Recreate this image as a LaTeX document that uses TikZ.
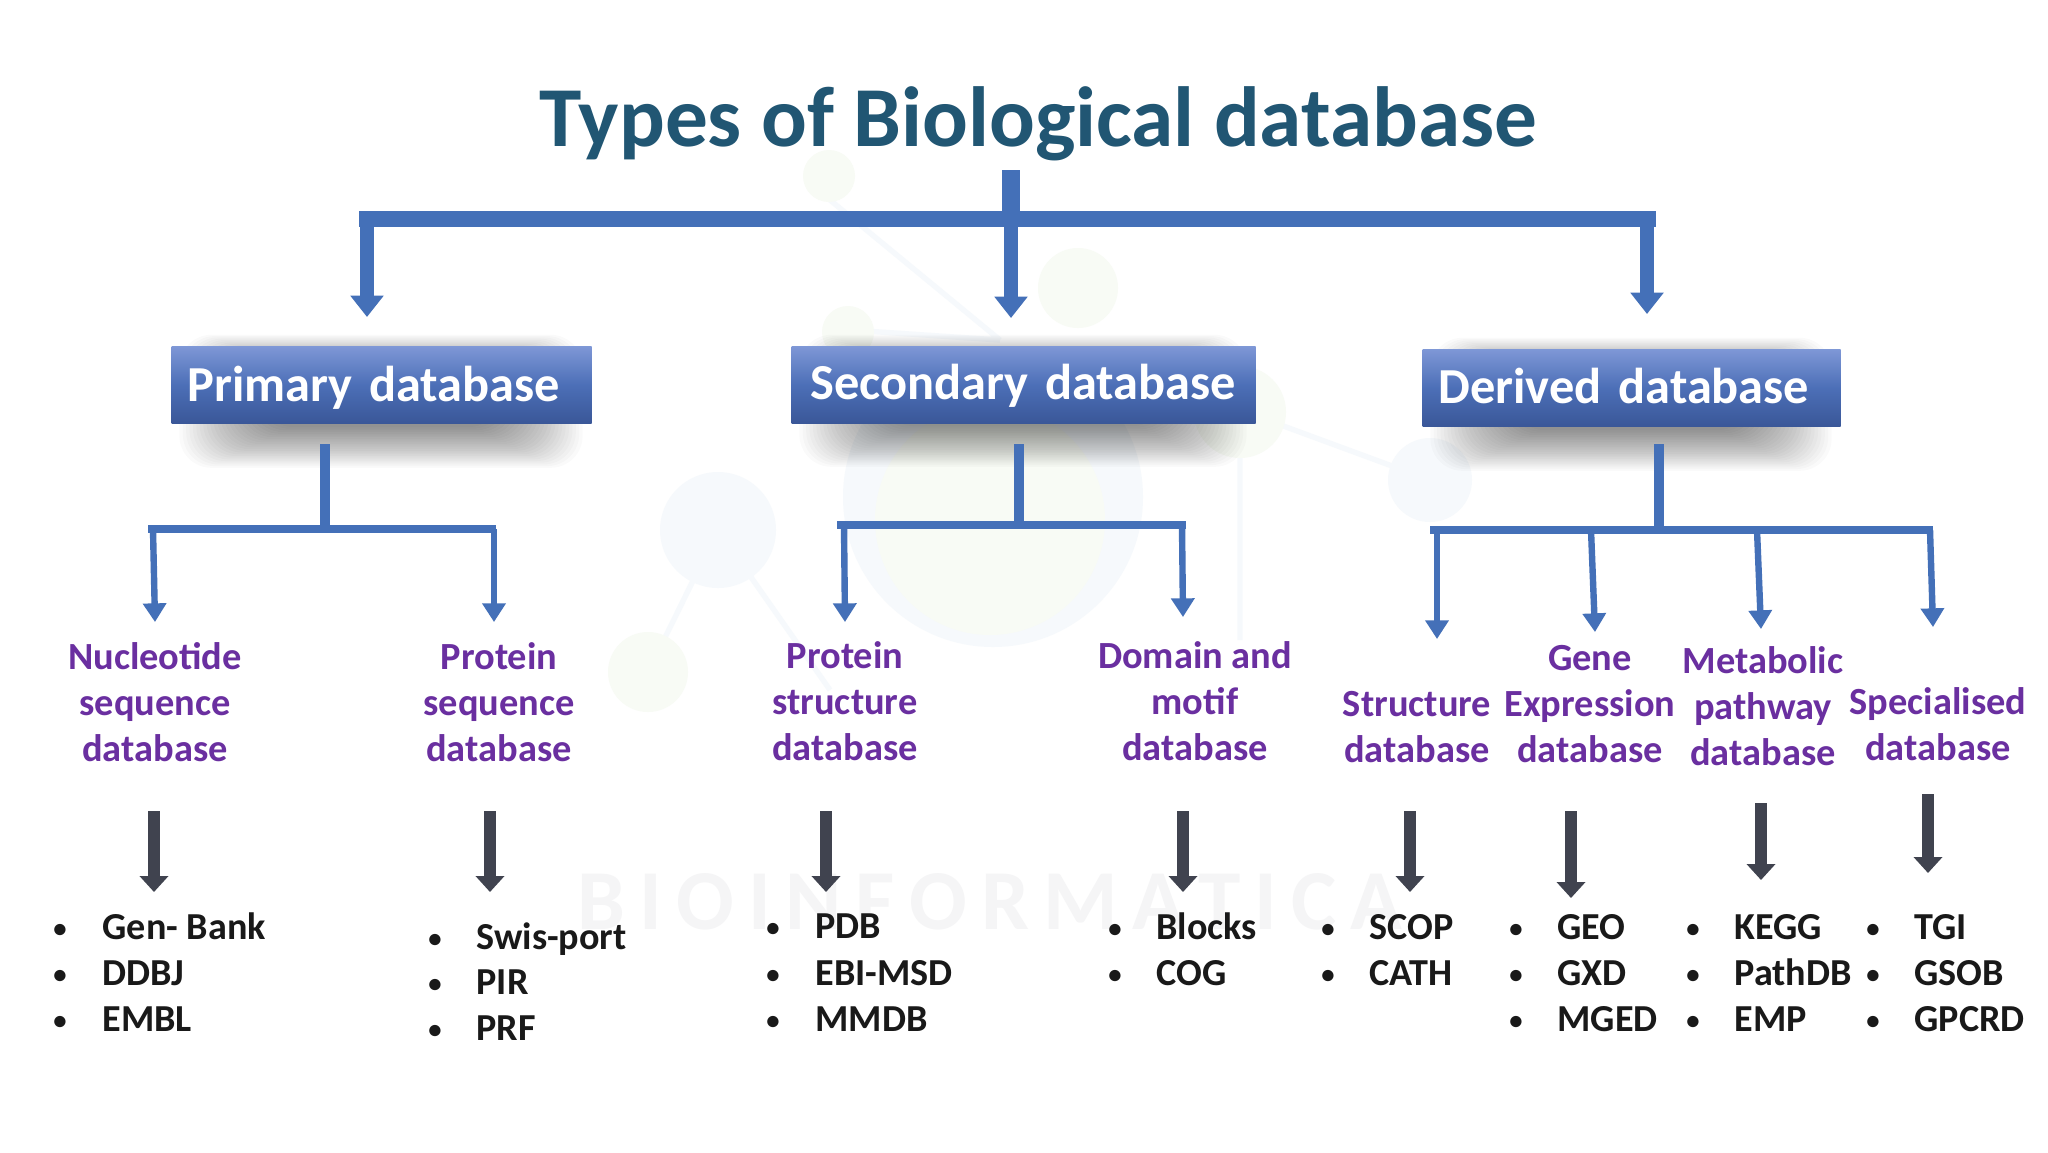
\documentclass[tikz,border=0pt]{standalone}
\usepackage{fontspec}
\setmainfont{Carlito}
\usetikzlibrary{arrows.meta,calc}
\definecolor{titlec}{HTML}{215673}
\definecolor{linkc}{HTML}{4470B8}
\definecolor{linkd}{HTML}{4470B8}
\definecolor{purp}{HTML}{6A2FA0}
\definecolor{darka}{HTML}{40434F}
\definecolor{wm}{HTML}{F6F9FC}
\definecolor{wmg}{HTML}{F8FBF5}
\definecolor{wmt}{HTML}{F5F5F6}
\tikzset{
  x=0.375pt,y=-0.375pt,
  title/.style={font=\fontsize{32pt}{34pt}\selectfont\bfseries,text=titlec,anchor=base,inner sep=0pt},
  header/.style={anchor=north west,inner ysep=0pt,inner xsep=6pt,minimum height=28.8pt,
     font=\fontsize{18.9pt}{20pt}\selectfont\bfseries,text=white,align=left,
     top color=headtop,bottom color=headbot,middle color=headmid},
  cat/.style={font=\fontsize{14.4pt}{17.2pt}\selectfont\bfseries,text=purp,align=center,anchor=center,inner sep=0pt},
  item/.style={font=\fontsize{14.3pt}{16pt}\selectfont\bfseries,text=black!90,anchor=base west,inner sep=0pt},
  bul/.style={font=\fontsize{10pt}{12pt}\selectfont\bfseries,text=black!90,anchor=base,inner sep=0pt},
  trunk/.style={draw=linkd,line width=6pt},
  drop/.style={draw=linkd,line width=5.2pt,-{Triangle[length=8pt,width=12pt]}},
  stem/.style={draw=linkd,line width=3.4pt},
  sbar/.style={draw=linkd,line width=3.2pt},
  sarrow/.style={draw=linkd,line width=2.4pt,-{Triangle[length=7pt,width=8.5pt]}},
  darrow/.style={draw=darka,line width=4.6pt,-{Triangle[length=6pt,width=10.5pt]}},
  wmline/.style={draw=wm,line width=2pt},
}
\definecolor{headtop}{HTML}{7E97D6}
\definecolor{headmid}{HTML}{4C6FB7}
\definecolor{headbot}{HTML}{3A5798}
\newcommand{\boxshadow}[4]{% x1 y1 x2 y2
  \foreach \k in {0,...,24}{
    \fill[black,opacity=0.019,rounded corners=12pt]
      (#1+90-\k*3.4,#2+20-\k*1.3) rectangle (#3-90+\k*3.4,#4+4+\k*1.7);
  }}
\newcommand{\entry}[5]{% name bullet-x text-x y text
  \node[bul] (#1b) at (#2,#4-1) {•};
  \node[item] (#1) at (#3,#4+1) {#5};}
\newcommand{\headtext}[2]{\raisebox{-#1}[0pt][0pt]{#2}}
\begin{document}
\begin{tikzpicture}
\useasboundingbox (0,0) rectangle (2048,1152);
\fill[white] (0,0) rectangle (2048,1152);
% faint watermark
\begin{scope}
\draw[wmline] (718,530)--(830,690) (718,530)--(648,672) (1000,340)--(830,200) (1000,340)--(850,330)
 (1240,410)--(1430,480) (1240,410)--(1240,640);
\fill[wm] (718,530) circle (58);
\fill[wmg] (648,672) circle (40);
\fill[wm] (993,497) circle (150);
\fill[wmg] (990,520) circle (115);
\fill[wmg] (1240,412) circle (46);
\fill[wm] (1430,480) circle (42);
\fill[wmg] (1078,288) circle (40);
\fill[wmg] (829,176) circle (26);
\fill[wmg] (848,332) circle (26);
\node[inner sep=0pt,text=wmt,font=\fontsize{32pt}{32pt}\selectfont\bfseries] (wmtext) at (990,902) {B\,I\,O\,I\,N\,F\,O\,R\,M\,A\,T\,I\,C\,A};
\end{scope}
% title
\node[title] (ttl) at (1038,146) {Types of Biological database};
% shadows and headers
\boxshadow{171}{346}{591}{423}
\boxshadow{791}{346}{1255}{422}
\boxshadow{1422}{349}{1840}{426}
\node[header,minimum width=157.5pt,text width=145.5pt] (pri) at (171,346) {\headtext{6.2pt}{Primary database}};
\node[header,minimum width=174pt,text width=162pt] (sec) at (791,346) {\headtext{5.6pt}{\hspace{1pt}Secondary database}};
\node[header,minimum width=156.8pt,text width=144.8pt] (der) at (1422,349) {\headtext{6pt}{Derived database}};
% top connectors
\coordinate (c0) at (1011,170);
\coordinate (cj) at (1011,219);
\coordinate (cl) at (359,219);
\coordinate (cr) at (1656,219);
\coordinate (cla) at (367,219);
\coordinate (cra) at (1647,219);
\coordinate (pt) at (367,317);
\coordinate (st) at (1011,318);
\coordinate (dt) at (1647,314);
\draw[trunk] (cl)--(cr);
\draw[draw=linkd,line width=7pt] (c0)--(cj);
\draw[drop] (cla)--(pt);
\draw[drop] (cj)--(st);
\draw[drop] (cra)--(dt);
% primary
\node[cat] (nuc) at (155,702) {Nucleotide\\sequence\\database};
\node[cat] (prs) at (499,702) {Protein\\sequence\\database};
\coordinate (p0) at (325,444); \coordinate (pj) at (325,529);
\coordinate (pl) at (148,529); \coordinate (pr) at (496,529);
\coordinate (pla) at (153,529); \coordinate (pra) at (494,529);
\coordinate (nuct) at (155,622); \coordinate (prst) at (494,622);
\draw[stem] (p0)--(pj);
\draw[sbar] (pl)--(pr);
\draw[sarrow] (pla)--(nuct);
\draw[sarrow] (pra)--(prst);
% secondary
\node[cat] (pst) at (845,701) {Protein\\structure\\database};
\node[cat] (dom) at (1195,701) {Domain and\\motif\\database};
\coordinate (s0) at (1019,444); \coordinate (sj) at (1019,525);
\coordinate (sl) at (837,525); \coordinate (sr) at (1186,525);
\coordinate (sla) at (844,525); \coordinate (sra) at (1182,525);
\coordinate (pstt) at (845,622); \coordinate (domt) at (1183,617);
\draw[stem] (s0)--(sj);
\draw[sbar] (sl)--(sr);
\draw[sarrow] (sla)--(pstt);
\draw[sarrow] (sra)--(domt);
% derived
\node[cat] (str) at (1417,727) {Structure\\database};
\node[cat] (gen) at (1590,704) {Gene\\Expression\\database};
\node[cat] (met) at (1763,706) {Metabolic\\pathway\\database};
\node[cat] (spe) at (1938,724) {Specialised\\database};
\coordinate (d0) at (1659,444); \coordinate (dj) at (1659,530);
\coordinate (dl) at (1430,530); \coordinate (dr) at (1933,530);
\coordinate (d1) at (1437,530); \coordinate (d2) at (1591,530);
\coordinate (d3) at (1757,530); \coordinate (d4) at (1930,530);
\coordinate (strt) at (1437,639); \coordinate (gent) at (1595,632);
\coordinate (mett) at (1761,629); \coordinate (spet) at (1933,627);
\draw[stem] (d0)--(dj);
\draw[sbar] (dl)--(dr);
\draw[sarrow] (d1)--(strt);
\draw[sarrow] (d2)--(gent);
\draw[sarrow] (d3)--(mett);
\draw[sarrow] (d4)--(spet);
% lists
\entry{a1}{60}{102}{938}{Gen- Bank}
\entry{a2}{60}{102}{984}{DDBJ}
\entry{a3}{60}{102}{1030}{EMBL}
\entry{b1}{435}{476}{948}{Swis-port}
\entry{b2}{435}{476}{993}{PIR}
\entry{b3}{435}{476}{1039}{PRF}
\entry{c1}{773}{815}{937}{PDB}
\entry{c2}{773}{815}{984}{EBI-MSD}
\entry{c3}{773}{815}{1030}{MMDB}
\entry{e1}{1115}{1156}{938}{Blocks}
\entry{e2}{1115}{1156}{984}{COG}
\entry{f1}{1328}{1369}{938}{SCOP}
\entry{f2}{1328}{1369}{984}{CATH}
\entry{g1}{1516}{1557}{938}{GEO}
\entry{g2}{1516}{1557}{984}{GXD}
\entry{g3}{1516}{1557}{1030}{MGED}
\entry{h1}{1693}{1734}{938}{KEGG}
\entry{h2}{1693}{1734}{984}{PathDB}
\entry{h3}{1693}{1734}{1030}{EMP}
\entry{i1}{1873}{1914}{938}{TGI}
\entry{i2}{1873}{1914}{984}{GSOB}
\entry{i3}{1873}{1914}{1030}{GPCRD}
% dark arrows
\coordinate (x1) at (154,811); \coordinate (y1) at (154,892);
\coordinate (x2) at (490,811); \coordinate (y2) at (490,892);
\coordinate (x3) at (826,811); \coordinate (y3) at (826,892);
\coordinate (x4) at (1183,811); \coordinate (y4) at (1183,892);
\coordinate (x5) at (1410,811); \coordinate (y5) at (1410,892);
\coordinate (x6) at (1571,811); \coordinate (y6) at (1571,898);
\coordinate (x7) at (1761,803); \coordinate (y7) at (1761,880);
\coordinate (x8) at (1928,794); \coordinate (y8) at (1928,873);
\foreach \n in {1,...,8}{\draw[darrow] (x\n)--(y\n);}
\end{tikzpicture}
\end{document}
